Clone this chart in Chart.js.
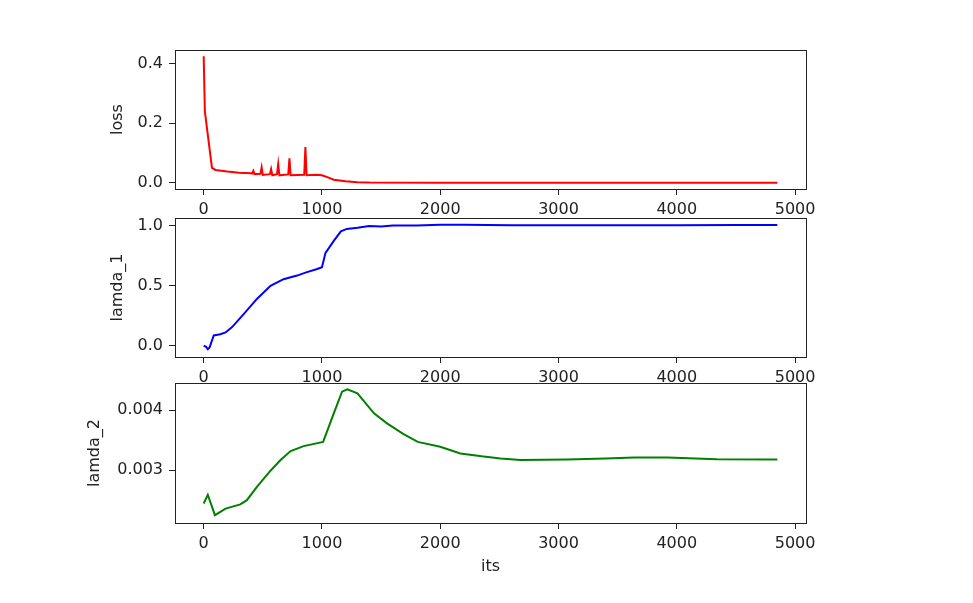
<!DOCTYPE html>
<html>
<head>
<meta charset="utf-8">
<script src="https://cdn.jsdelivr.net/npm/chart.js@4/dist/chart.umd.min.js"></script>
<style>
  body { margin: 0; background: #fff; }
  #wrap { position: relative; width: 973px; height: 603px; }
  #wrap canvas { position: absolute; left: 0; top: 0; }
</style>
</head>
<body>
<div id="wrap">
  <canvas id="c1" width="973" height="603"></canvas>
  <canvas id="c2" width="973" height="603"></canvas>
  <canvas id="c3" width="973" height="603"></canvas>
</div>
<script>
// iterations on the x axis and the three tracked quantities
const lossIts = [0, 10, 70, 100, 200, 300, 400, 410, 420, 430, 480, 490, 500, 560, 570, 580, 620, 630, 640, 715, 725, 735, 850, 860, 870, 950, 1000, 1050, 1100, 1200, 1300, 1400, 2000, 3000, 4000, 4850];
const lossVals = [0.425, 0.24, 0.05, 0.043, 0.038, 0.034, 0.032, 0.031, 0.04, 0.029, 0.03, 0.052, 0.026, 0.029, 0.046, 0.025, 0.029, 0.063, 0.025, 0.028, 0.082, 0.025, 0.027, 0.12, 0.025, 0.027, 0.025, 0.018, 0.01, 0.005, 0.002, 0.0005, 0.0002, 0.0001, 0.0001, 0.0001];

const lam1Its = [0, 20, 35, 50, 85, 140, 185, 240, 340, 450, 565, 675, 790, 860, 960, 1000, 1030, 1100, 1160, 1210, 1300, 1400, 1500, 1600, 1800, 2000, 2200, 2600, 3000, 3500, 4000, 4500, 4850];
const lam1Vals = [0.0, -0.01, -0.03, -0.015, 0.085, 0.095, 0.11, 0.155, 0.265, 0.39, 0.5, 0.555, 0.585, 0.61, 0.64, 0.655, 0.775, 0.875, 0.955, 0.975, 0.985, 1.0, 0.995, 1.003, 1.003, 1.01, 1.01, 1.005, 1.005, 1.005, 1.005, 1.007, 1.008];

const lam2Its = [0, 35, 95, 185, 310, 365, 450, 565, 650, 735, 845, 1010, 1100, 1170, 1215, 1300, 1440, 1550, 1690, 1810, 2000, 2170, 2350, 2510, 2680, 3070, 3400, 3640, 3920, 4340, 4850];
const lam2Vals = [0.002445, 0.00259, 0.00225, 0.00236, 0.00243, 0.0025, 0.00272, 0.00299, 0.003167, 0.003317, 0.0034, 0.00347, 0.003945, 0.004305, 0.004345, 0.004278, 0.003945, 0.003778, 0.0036, 0.00347, 0.003388, 0.003278, 0.00323, 0.003195, 0.003167, 0.003178, 0.003195, 0.003212, 0.003212, 0.003183, 0.003178];

const xTicks = [0, 1000, 2000, 3000, 4000, 5000];
const lossTicks = [0.0, 0.2, 0.4];
const lam1Ticks = [0.0, 0.5, 1.0];
const lam2Ticks = [0.003, 0.004];

Chart.defaults.font.family = 'DejaVu Sans';
Chart.defaults.font.size = 16;
Chart.defaults.color = '#222';

const frame = {
    id: 'frame',
    afterDraw(chart) {
        const a = chart.chartArea;
        const c = chart.ctx;
        c.save();
        c.strokeStyle = '#222';
        c.lineWidth = 1;
        c.strokeRect(a.left + 0.5, a.top + 0.5, a.right - a.left, a.bottom - a.top);
        c.restore();
    }
};

function makePanel(id, its, vals, color, opts) {
    const pts = its.map((x, i) => ({ x: x, y: vals[i] }));
    return new Chart(document.getElementById(id), {
        type: 'line',
        data: {
            datasets: [{
                data: pts,
                borderColor: color,
                borderWidth: 2,
                pointRadius: 0,
                tension: 0,
                fill: false
            }]
        },
        options: {
            responsive: false,
            animation: false,
            events: [],
            layout: { padding: { left: opts.padLeft, right: 167, top: opts.top, bottom: 603 - opts.bottom - opts.xh } },
            plugins: { legend: { display: false }, tooltip: { enabled: false } },
            scales: {
                x: {
                    type: 'linear',
                    min: -242.5,
                    max: 5092.5,
                    afterBuildTicks: s => { s.ticks = xTicks.map(v => ({ value: v })); },
                    afterFit: s => { s.height = opts.xh; },
                    ticks: { padding: 5, maxRotation: 0, autoSkip: false, callback: v => String(v) },
                    grid: { drawOnChartArea: false, drawTicks: true, tickLength: 6, color: '#222' },
                    border: { display: true, color: '#222' },
                    title: { display: !!opts.xTitle, text: opts.xTitle || '', padding: 0 }
                },
                y: {
                    min: opts.min,
                    max: opts.max,
                    afterBuildTicks: s => { s.ticks = opts.yTicks.map(v => ({ value: v })); },
                    afterFit: s => { s.width = 175 - opts.padLeft; },
                    ticks: { padding: 6, callback: v => v.toFixed(opts.dec) },
                    grid: { drawOnChartArea: false, drawTicks: true, tickLength: 6, color: '#222' },
                    border: { display: true, color: '#222' },
                    title: { display: true, text: opts.yTitle, padding: 0 }
                }
            }
        },
        plugins: [frame]
    });
}

makePanel('c1', lossIts, lossVals, '#ff0000', {
    padLeft: 108, top: 50, bottom: 189, xh: 30,
    min: -0.021, max: 0.446, yTicks: lossTicks, dec: 1, yTitle: 'loss'
});
makePanel('c2', lam1Its, lam1Vals, '#0000ff', {
    padLeft: 108, top: 218, bottom: 357, xh: 30,
    min: -0.095, max: 1.066, yTicks: lam1Ticks, dec: 1, yTitle: 'lamda_1'
});
makePanel('c3', lam2Its, lam2Vals, '#008000', {
    padLeft: 85, top: 383, bottom: 523, xh: 53,
    min: 0.00212, max: 0.00445, yTicks: lam2Ticks, dec: 3, yTitle: 'lamda_2', xTitle: 'its'
});
</script>
</body>
</html>
